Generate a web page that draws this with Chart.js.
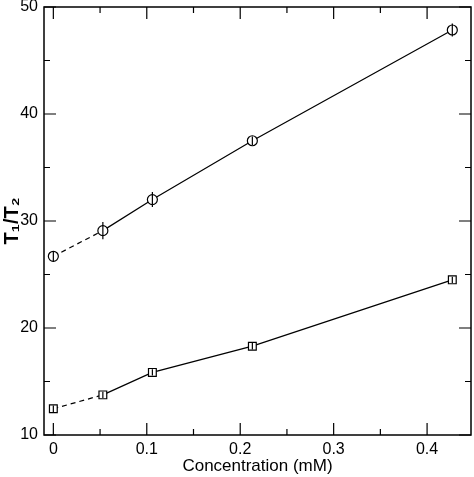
<!DOCTYPE html>
<html>
<head>
<meta charset="utf-8">
<script src="https://cdn.jsdelivr.net/npm/chart.js@4.4.1/dist/chart.umd.min.js"></script>
<style>
html, body { margin: 0; padding: 0; background: #fff; overflow: hidden; }
#wrap { position: absolute; left: 0; top: 0; width: 474px; height: 477px; }
</style>
</head>
<body>
<div id="wrap"><canvas id="chart"></canvas></div>
<script>
// values
const concentration = [0, 0.053, 0.106, 0.213, 0.427];
const circleValues = [26.7, 29.1, 32.0, 37.5, 47.85];
const circleErrors = [0.5, 0.8, 0.7, 0.4, 0.6];
const squareValues = [12.45, 13.75, 15.85, 18.3, 24.5];
const squareErrors = [0.3, 0.3, 0.3, 0.3, 0.3];
const xTickValues = [0, 0.05, 0.1, 0.15, 0.2, 0.25, 0.3, 0.35, 0.4];
const yTickValues = [10, 15, 20, 25, 30, 35, 40, 45, 50];

const toPoints = (xs, ys) => xs.map((x, i) => ({ x: x, y: ys[i] }));

// first segment dashed, the rest solid
const dashFirst = ctx => ctx.p0DataIndex === 0 ? [5, 4] : undefined;

// frame, inward ticks on all four sides, and error bars
const framePlugin = {
    id: 'frame',
    afterDatasetsDraw(chart) {
        const ctx = chart.ctx;
        const a = chart.chartArea;
        const x = chart.scales.x;
        const y = chart.scales.y;
        ctx.save();
        ctx.strokeStyle = '#000';
        ctx.lineWidth = 1.2;

        // error bars
        [[circleValues, circleErrors], [squareValues, squareErrors]].forEach(([vals, errs]) => {
            vals.forEach((v, i) => {
                const px = x.getPixelForValue(concentration[i]);
                ctx.beginPath();
                ctx.moveTo(px, y.getPixelForValue(v - errs[i]));
                ctx.lineTo(px, y.getPixelForValue(v + errs[i]));
                ctx.stroke();
            });
        });

        ctx.lineWidth = 1.5;
        ctx.strokeRect(a.left, a.top, a.right - a.left, a.bottom - a.top);

        ctx.lineWidth = 1.2;
        xTickValues.forEach(v => {
            const px = x.getPixelForValue(v);
            const len = Math.round(v * 100) % 10 === 0 ? 12 : 6;
            ctx.beginPath();
            ctx.moveTo(px, a.bottom);
            ctx.lineTo(px, a.bottom - len);
            ctx.moveTo(px, a.top);
            ctx.lineTo(px, a.top + len);
            ctx.stroke();
        });
        yTickValues.forEach(v => {
            const py = y.getPixelForValue(v);
            const len = v % 10 === 0 ? 12 : 6;
            ctx.beginPath();
            ctx.moveTo(a.left, py);
            ctx.lineTo(a.left + len, py);
            ctx.moveTo(a.right, py);
            ctx.lineTo(a.right - len, py);
            ctx.stroke();
        });
        ctx.restore();
    }
};

const font = { family: "'Liberation Sans', Arial, sans-serif", size: 16 };

const chart = new Chart(document.getElementById('chart'), {
    type: 'line',
    data: {
        datasets: [{
            label: 'circles',
            data: toPoints(concentration, circleValues),
            borderColor: '#000',
            borderWidth: 1.2,
            pointStyle: 'circle',
            pointRadius: 5,
            pointBorderWidth: 1.2,
            pointBorderColor: '#000',
            pointBackgroundColor: '#fff',
            tension: 0,
            segment: { borderDash: dashFirst }
        }, {
            label: 'squares',
            data: toPoints(concentration, squareValues),
            borderColor: '#000',
            borderWidth: 1.2,
            pointStyle: 'rect',
            pointRadius: 5.5,
            pointBorderWidth: 1.2,
            pointBorderColor: '#000',
            pointBackgroundColor: '#fff',
            tension: 0,
            segment: { borderDash: dashFirst }
        }]
    },
    options: {
        responsive: true,
        maintainAspectRatio: false,
        animation: false,
        layout: { autoPadding: false, padding: { top: 7, right: 3, left: 0, bottom: 0 } },
        plugins: {
            legend: { display: false },
            tooltip: { enabled: false }
        },
        scales: {
            x: {
                type: 'linear',
                min: -0.01,
                max: 0.447,
                grid: { display: false, drawTicks: false },
                border: { display: false },
                afterBuildTicks: scale => { scale.ticks = xTickValues.map(v => ({ value: v })); },
                afterFit: scale => {
                    scale.height = 42;
                    scale.paddingLeft = 0;
                    scale.paddingRight = 0;
                },
                ticks: {
                    autoSkip: false,
                    maxRotation: 0,
                    padding: 5,
                    color: '#000',
                    font: font,
                    callback: v => {
                        const r = Math.round(v * 100);
                        return r % 10 === 0 ? String(r / 100) : '';
                    }
                },
                title: {
                    display: true,
                    text: 'Concentration (mM)',
                    color: '#000',
                    font: { family: font.family, size: 17 },
                    padding: { top: 0, bottom: 0 }
                }
            },
            y: {
                type: 'linear',
                min: 10,
                max: 50,
                grid: { display: false, drawTicks: false },
                border: { display: false },
                afterBuildTicks: scale => { scale.ticks = yTickValues.map(v => ({ value: v })); },
                afterFit: scale => {
                    scale.width = 44;
                    scale.paddingTop = 0;
                    scale.paddingBottom = 0;
                },
                ticks: {
                    autoSkip: false,
                    padding: 6,
                    color: '#000',
                    font: font,
                    callback: v => v % 10 === 0 ? String(v) : ''
                },
                title: {
                    display: true,
                    text: 'T₁/T₂',
                    color: '#000',
                    font: { family: font.family, size: 20, weight: 'bold' },
                    padding: { top: 0, bottom: 0 }
                }
            }
        }
    },
    plugins: [framePlugin]
});
</script>
</body>
</html>
